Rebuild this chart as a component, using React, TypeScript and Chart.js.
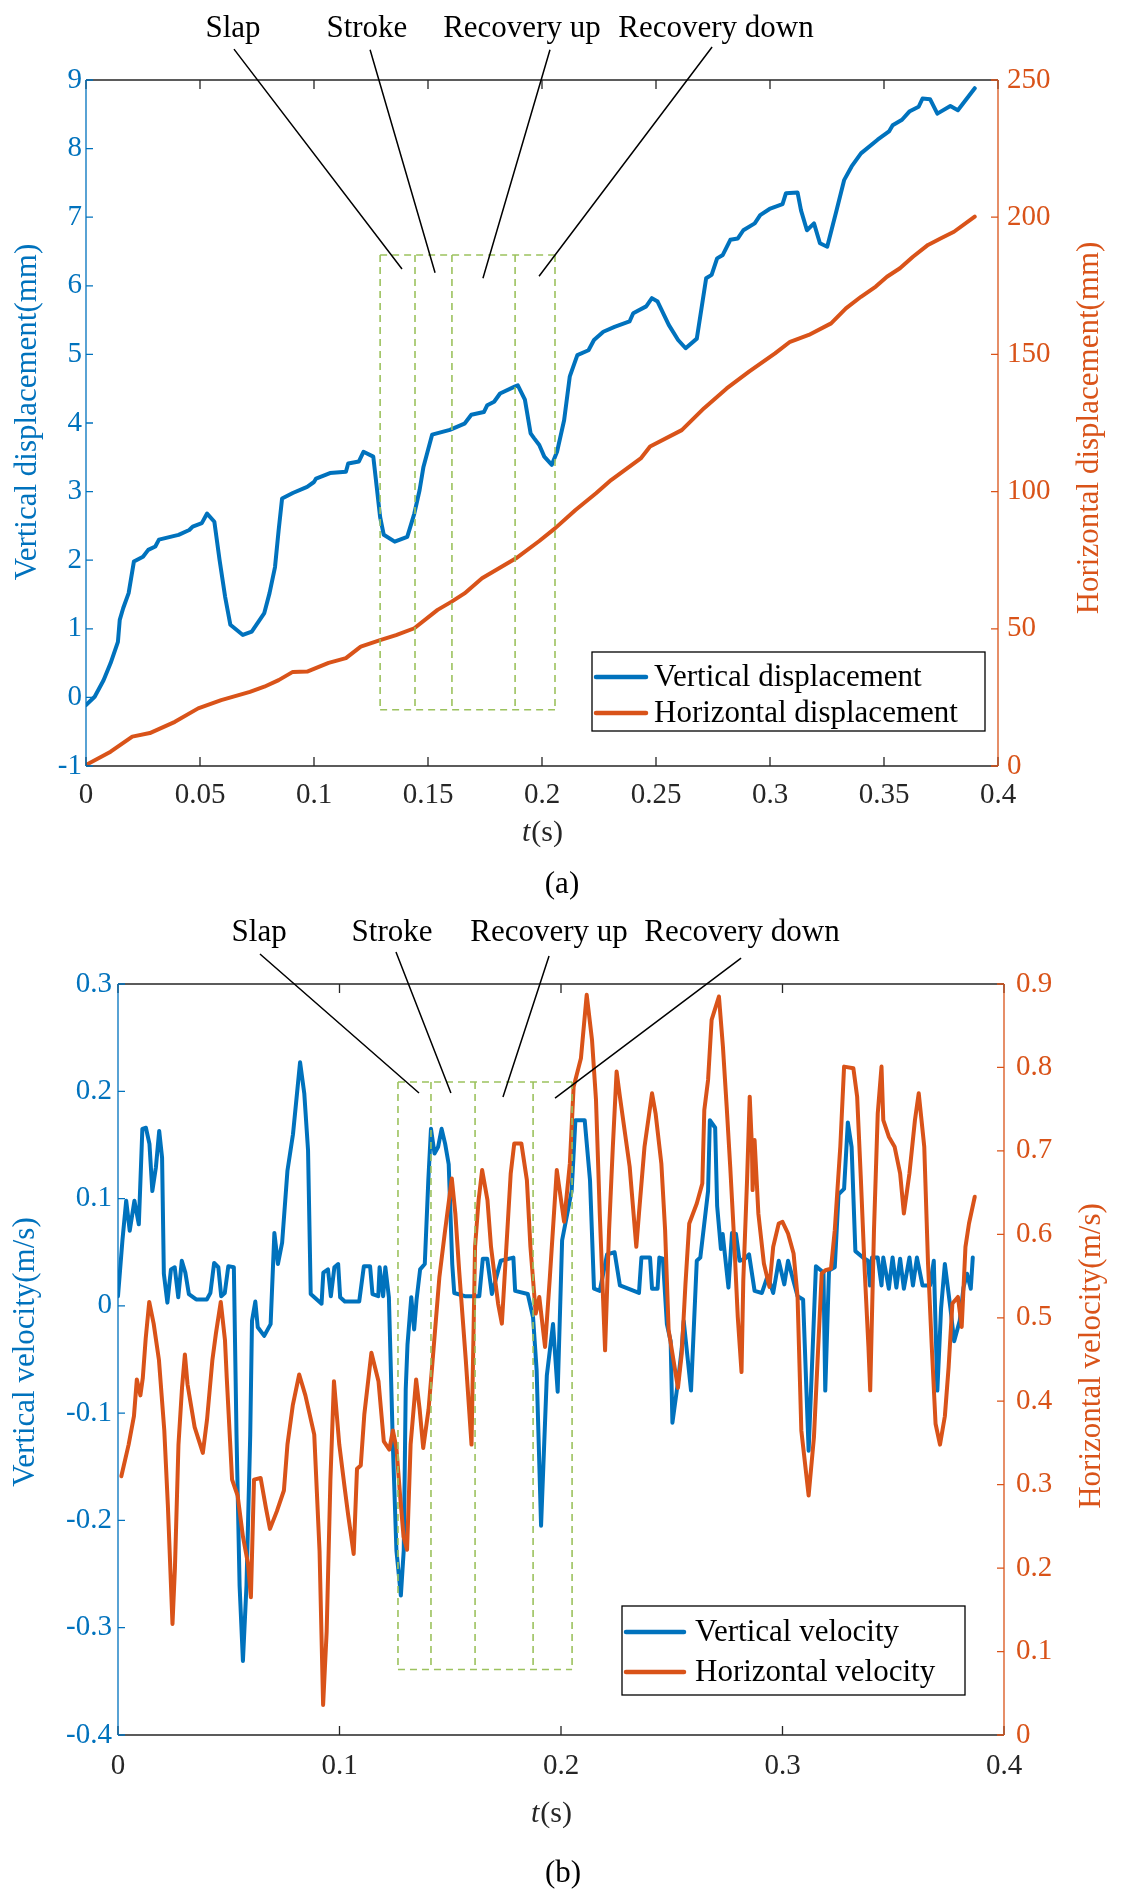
import React, { useEffect, useRef } from "react";
import { Chart, registerables } from "chart.js";
Chart.register(...registerables);

// ---------------- Panel (a): displacement ----------------
const vdTime = [0, .0038, .0077, .0108, .014, .0148, .0163, .0187, .021, .025, .0273, .0304, .032, .0406, .0453, .0468, .0508, .0531, .0563, .0586, .061, .0633, .0688, .0727, .0782, .0805, .0829, .0845, .086, .0907, .097, .1, .1009, .107, .114, .115, .1197, .1217, .126, .1275, .129, .1306, .1354, .1409, .144, .1463, .148, .1518, .1596, .166, .169, .1745, .176, .179, .1816, .188, .1894, .1925, .195, .1965, .1988, .201, .2043, .2066, .2097, .2122, .2155, .2204, .2228, .2269, .2318, .2384, .24, .2457, .2482, .2507, .2556, .2597, .263, .2679, .272, .2744, .2768, .2793, .2826, .2859, .2883, .2933, .2957, .2998, .3055, .307, .3121, .3136, .3162, .3193, .3219, .3251, .3292, .3325, .3358, .3399, .3472, .3522, .3538, .3579, .3611, .3652, .3669, .3702, .3734, .3791, .3824, .3898];
const vdValue = [-0.11, 0.01, 0.25, 0.5, 0.81, 1.13, 1.3, 1.52, 1.98, 2.05, 2.15, 2.2, 2.3, 2.37, 2.44, 2.49, 2.54, 2.68, 2.56, 2.0, 1.47, 1.06, 0.91, 0.96, 1.23, 1.52, 1.9, 2.44, 2.9, 2.98, 3.07, 3.14, 3.19, 3.27, 3.29, 3.41, 3.44, 3.58, 3.51, 3.07, 2.63, 2.37, 2.27, 2.34, 2.68, 3.02, 3.36, 3.83, 3.9, 3.99, 4.12, 4.16, 4.26, 4.31, 4.43, 4.53, 4.55, 4.34, 3.85, 3.78, 3.68, 3.51, 3.39, 3.58, 4.04, 4.68, 4.99, 5.06, 5.21, 5.33, 5.4, 5.48, 5.6, 5.7, 5.82, 5.77, 5.43, 5.21, 5.09, 5.23, 6.11, 6.16, 6.4, 6.45, 6.67, 6.69, 6.81, 6.91, 7.03, 7.12, 7.19, 7.35, 7.36, 7.1, 6.81, 6.91, 6.62, 6.57, 7.1, 7.54, 7.74, 7.93, 8.13, 8.25, 8.34, 8.42, 8.54, 8.61, 8.73, 8.72, 8.51, 8.62, 8.56, 8.88];
const hdTime = [0, .0108, .0203, .028, .039, .0492, .0593, .0719, .0782, .0845, .0907, .097, .1064, .114, .1205, .129, .136, .144, .1542, .1604, .166, .1737, .1886, .1988, .2057, .2147, .2237, .2303, .2433, .2474, .2613, .2711, .281, .2908, .3022, .3088, .317, .3268, .3333, .3399, .3464, .3513, .357, .3627, .3693, .375, .3807, .3898];
const hdValue = [0.4, 5.2, 10.7, 12, 16.1, 21, 24, 27, 28.9, 31.3, 34.3, 34.4, 37.6, 39.3, 43.5, 45.9, 47.7, 50.2, 56.9, 59.9, 62.9, 68.4, 75.7, 82, 86.6, 93.3, 99.4, 104.2, 112.1, 116.4, 122.4, 130.4, 137.6, 143.7, 150.4, 154.6, 157.1, 161.3, 166.8, 171, 174.7, 178.3, 181.4, 185.6, 189.9, 192.3, 194.7, 200.2];

const xTicksA = [0, 0.05, 0.1, 0.15, 0.2, 0.25, 0.3, 0.35, 0.4];
const xTickLabelsA = ["0", "0.05", "0.1", "0.15", "0.2", "0.25", "0.3", "0.35", "0.4"];
const yLeftTicksA = [-1, 0, 1, 2, 3, 4, 5, 6, 7, 8, 9];
const yLeftLabelsA = ["-1", "0", "1", "2", "3", "4", "5", "6", "7", "8", "9"];
const yRightTicksA = [0, 50, 100, 150, 200, 250];
const yRightLabelsA = ["0", "50", "100", "150", "200", "250"];

const phaseLabels = ["Slap", "Stroke", "Recovery up", "Recovery down"];
const annTextXA = [0.0645, 0.1232, 0.1912, 0.2763];
const annTextYA = 9.627;
const annFromXA = [0.0649, 0.1246, 0.2035, 0.2746];
const annFromYA = [9.45, 9.44, 9.44, 9.48];
const annToXA = [0.1386, 0.1531, 0.1741, 0.1987];
const annToYA = [6.245, 6.19, 6.11, 6.14];
const boxXA = [0.129, 0.1443, 0.1605, 0.1882, 0.2057];
const boxTopA = 6.45;
const boxBottomA = -0.18;

// ---------------- Panel (b): velocity ----------------
const vvTime = [0, .002, .0037, .0053, .0074, .0094, .011, .0126, .0142, .0155, .0171, .0186, .0199, .0207, .0223, .0239, .0256, .0272, .0288, .0304, .032, .0353, .0401, .0417, .0434, .0453, .0466, .0482, .0498, .0523, .0535, .0549, .0564, .058, .0597, .0605, .062, .0631, .066, .0689, .0706, .0722, .0741, .0765, .079, .0822, .0841, .0858, .087, .0919, .0927, .0948, .0961, .0977, .0994, .1003, .1024, .1089, .111, .1138, .1149, .1175, .1181, .1197, .1207, .1223, .1241, .1257, .1277, .129, .1299, .1307, .1324, .1337, .1348, .1364, .1385, .1401, .1413, .1429, .1445, .1461, .1477, .1493, .1509, .1518, .1566, .1631, .1647, .1667, .1688, .1728, .1785, .1793, .185, .1874, .189, .191, .1936, .1964, .1985, .2005, .2048, .2065, .2107, .2131, .2149, .2175, .2208, .2242, .2266, .2352, .2363, .2402, .2411, .2436, .2444, .246, .2478, .2495, .2503, .2528, .2545, .2554, .2587, .2613, .2629, .2664, .2672, .2696, .2705, .2722, .273, .2756, .2772, .279, .2806, .2831, .2849, .2874, .2907, .2933, .2958, .2983, .3008, .3025, .3068, .3093, .3118, .3151, .3185, .3193, .321, .3236, .3253, .3278, .3295, .3312, .3329, .3363, .3386, .3395, .3404, .343, .3447, .3455, .348, .3497, .3514, .3531, .3548, .3573, .3589, .3607, .3632, .3666, .3683, .3699, .3716, .3733, .3758, .3775, .38, .3817, .3833, .385, .3859];
const vvValue = [.009, .061, .098, .07, .098, .076, .165, .166, .151, .107, .129, .163, .138, .03, .003, .034, .036, .008, .042, .031, .011, .006, .006, .012, .04, .036, .009, .012, .037, .036, -.12, -.261, -.331, -.261, -.12, -.014, .004, -.02, -.028, -.017, .068, .039, .059, .126, .16, .227, .198, .145, .011, .002, .031, .034, .009, .036, .039, .008, .004, .004, .037, .037, .011, .009, .036, .009, .036, .008, -.13, -.228, -.27, -.228, -.078, -.036, .008, -.022, .006, .034, .039, .117, .165, .142, .148, .165, .151, .132, .039, .012, .009, .009, .044, .044, .011, .042, .045, .014, .011, -.011, -.06, -.205, -.065, -.017, -.08, .061, .107, .173, .173, .117, .016, .014, .048, .05, .019, .012, .045, .045, .016, .016, .045, .044, -.017, -.033, -.109, -.071, -.04, -.014, -.079, .042, .045, .107, .173, .166, .093, .053, .067, .017, .068, .067, .042, .044, .048, .014, .012, .028, .012, .042, .02, .042, .009, .006, -.135, .037, .031, -.079, .033, .036, .104, .109, .171, .148, .051, .045, .042, .019, .045, .045, .019, .045, .016, .045, .017, .044, .016, .045, .019, .045, .019, .019, .042, -.079, -.002, .039, -.002, -.033, -.014, .017, .03, .016, .045];
const hvTime = [.0015, .0048, .0072, .0085, .0101, .0112, .0125, .0141, .0161, .0185, .0209, .0225, .0246, .0257, .0273, .0289, .0302, .0314, .0346, .0383, .0402, .0426, .0442, .0464, .0483, .0491, .0515, .054, .0564, .0587, .06, .0614, .0644, .0668, .0686, .0717, .0749, .0765, .0789, .0818, .0846, .0886, .091, .0926, .0942, .0959, .0975, .0999, .1023, .1039, .1064, .1079, .1096, .1112, .1144, .1176, .12, .1225, .1241, .1257, .1273, .1289, .1305, .1321, .1346, .1362, .1378, .1402, .1418, .1451, .1475, .1507, .1523, .154, .157, .1596, .1612, .1628, .1644, .1668, .1684, .1716, .1733, .1749, .1773, .1789, .1821, .1846, .1862, .1886, .1902, .1928, .195, .1981, .1998, .2014, .204, .2057, .209, .2116, .214, .2158, .2175, .2199, .2217, .2234, .2251, .2266, .231, .234, .2352, .2377, .2411, .2427, .2453, .247, .2486, .2528, .2545, .2562, .2579, .2613, .2638, .2647, .2664, .268, .2713, .2731, .2748, .2764, .2781, .2798, .2815, .2823, .284, .2852, .2862, .2865, .2874, .2891, .2916, .2941, .2958, .2983, .3, .3025, .305, .3068, .3085, .3118, .3142, .3177, .3194, .3219, .3236, .3261, .3278, .332, .3337, .3354, .3371, .3388, .3396, .3413, .343, .3447, .3455, .348, .3506, .3531, .3548, .3573, .3598, .3615, .364, .3657, .3674, .3691, .3711, .3733, .375, .3767, .3792, .3809, .3826, .3842, .3868];
const hvValue = [.31, .348, .382, .426, .407, .428, .475, .519, .493, .449, .365, .276, .133, .2, .348, .416, .456, .42, .369, .338, .378, .449, .481, .519, .473, .428, .306, .287, .238, .205, .165, .306, .308, .272, .247, .268, .293, .348, .395, .432, .407, .36, .22, .036, .124, .306, .424, .348, .297, .264, .217, .319, .323, .384, .458, .424, .352, .342, .365, .344, .289, .238, .222, .348, .426, .39, .344, .39, .441, .549, .601, .667, .625, .557, .45, .348, .585, .641, .677, .641, .585, .517, .493, .565, .673, .709, .709, .665, .585, .505, .525, .465, .55, .677, .645, .615, .685, .777, .811, .887, .833, .761, .625, .461, .605, .705, .795, .765, .681, .585, .625, .705, .769, .745, .685, .605, .485, .416, .457, .541, .613, .637, .661, .749, .785, .857, .885, .825, .753, .681, .597, .501, .435, .545, .665, .765, .705, .653, .713, .625, .565, .537, .585, .613, .615, .601, .577, .525, .365, .287, .357, .553, .557, .559, .605, .705, .801, .799, .765, .665, .557, .465, .413, .605, .745, .801, .737, .717, .705, .673, .625, .673, .737, .769, .705, .565, .465, .373, .348, .382, .441, .517, .525, .489, .585, .613, .645];

const xTicksB = [0, 0.1, 0.2, 0.3, 0.4];
const xTickLabelsB = ["0", "0.1", "0.2", "0.3", "0.4"];
const yLeftTicksB = [-0.4, -0.3, -0.2, -0.1, 0, 0.1, 0.2, 0.3];
const yLeftLabelsB = ["-0.4", "-0.3", "-0.2", "-0.1", "0", "0.1", "0.2", "0.3"];
const yRightTicksB = [0, 0.1, 0.2, 0.3, 0.4, 0.5, 0.6, 0.7, 0.8, 0.9];
const yRightLabelsB = ["0", "0.1", "0.2", "0.3", "0.4", "0.5", "0.6", "0.7", "0.8", "0.9"];

const annTextXB = [0.0637, 0.1237, 0.1946, 0.2817];
const annTextYB = 0.340;
const annFromXB = [0.0641, 0.1255, 0.1946, 0.2813];
const annFromYB = [0.328, 0.3298, 0.326, 0.3242];
const annToXB = [0.1359, 0.1503, 0.1738, 0.1973];
const annToYB = [0.1984, 0.1984, 0.1947, 0.1937];
const boxXB = [0.1264, 0.1413, 0.1612, 0.1874, 0.205];
const boxTopB = 0.2087;
const boxBottomB = -0.339;

// ---------------- styling ----------------
const FONT = '"Liberation Serif", "Times New Roman", Times, serif';
const BLUE = "#0072BD";
const ORANGE = "#D95319";
const GREEN = "#9CC25E";
const AXIS = "#262626";

const toPts = (t: number[], v: number[]) => t.map((x, i) => ({ x, y: v[i] }));

interface PanelCfg {
  xTicks: number[];
  yLeftTicks: number[];
  yRightTicks: number[];
  leftTitle: string;
  rightTitle: string;
  leftTitleX: number;
  leftTitleY: number;
  rightTitleX: number;
  rightTitleY: number;
  xTitleX: number;
  xTitleY: number;
  panelLabel: string;
  panelLabelX: number;
  panelLabelY: number;
  legend: { x: number; y: number; w: number; h: number; l0: number; l1: number; tx: number; rows: number[] };
  annTextX: number[];
  annTextY: number;
  annFromX: number[];
  annFromY: number[];
  annToX: number[];
  annToY: number[];
  boxX: number[];
  boxTop: number;
  boxBottom: number;
}

function makeDecor(cfg: PanelCfg) {
  return {
    id: "decor",
    afterDatasetsDraw(chart: any) {
      const ctx: CanvasRenderingContext2D = chart.ctx;
      const xs = chart.scales.x;
      const yl = chart.scales.y;
      const yr = chart.scales.y1;
      const { left, right, top, bottom } = chart.chartArea;
      ctx.save();

      // dashed phase boxes
      ctx.strokeStyle = GREEN;
      ctx.lineWidth = 1.6;
      ctx.setLineDash([7, 5]);
      const bx = cfg.boxX.map((v) => xs.getPixelForValue(v));
      const byT = yl.getPixelForValue(cfg.boxTop);
      const byB = yl.getPixelForValue(cfg.boxBottom);
      ctx.beginPath();
      ctx.moveTo(bx[0], byT);
      ctx.lineTo(bx[bx.length - 1], byT);
      ctx.moveTo(bx[0], byB);
      ctx.lineTo(bx[bx.length - 1], byB);
      bx.forEach((x) => {
        ctx.moveTo(x, byT);
        ctx.lineTo(x, byB);
      });
      ctx.stroke();
      ctx.setLineDash([]);

      // axes frame
      ctx.lineWidth = 1.3;
      ctx.strokeStyle = AXIS;
      ctx.beginPath();
      ctx.moveTo(left, top);
      ctx.lineTo(right, top);
      ctx.moveTo(left, bottom);
      ctx.lineTo(right, bottom);
      cfg.xTicks.forEach((v) => {
        const px = xs.getPixelForValue(v);
        ctx.moveTo(px, bottom);
        ctx.lineTo(px, bottom - 9);
        ctx.moveTo(px, top);
        ctx.lineTo(px, top + 9);
      });
      ctx.stroke();
      ctx.strokeStyle = BLUE;
      ctx.beginPath();
      ctx.moveTo(left, top);
      ctx.lineTo(left, bottom);
      cfg.yLeftTicks.forEach((v) => {
        const py = yl.getPixelForValue(v);
        ctx.moveTo(left, py);
        ctx.lineTo(left + 7, py);
      });
      ctx.stroke();
      ctx.strokeStyle = ORANGE;
      ctx.beginPath();
      ctx.moveTo(right, top);
      ctx.lineTo(right, bottom);
      cfg.yRightTicks.forEach((v) => {
        const py = yr.getPixelForValue(v);
        ctx.moveTo(right, py);
        ctx.lineTo(right - 7, py);
      });
      ctx.stroke();

      // legend
      const lg = cfg.legend;
      ctx.fillStyle = "#ffffff";
      ctx.fillRect(lg.x, lg.y, lg.w, lg.h);
      ctx.strokeStyle = "#000";
      ctx.lineWidth = 1.3;
      ctx.strokeRect(lg.x, lg.y, lg.w, lg.h);
      ctx.font = `31px ${FONT}`;
      ctx.textBaseline = "middle";
      ctx.textAlign = "left";
      chart.data.datasets.forEach((ds: any, i: number) => {
        const ry = lg.rows[i];
        ctx.strokeStyle = ds.borderColor;
        ctx.lineWidth = 4.5;
        ctx.lineCap = "round";
        ctx.beginPath();
        ctx.moveTo(lg.l0, ry);
        ctx.lineTo(lg.l1, ry);
        ctx.stroke();
        ctx.fillStyle = "#000";
        ctx.fillText(ds.label, lg.tx, ry + 1);
      });
      ctx.lineCap = "butt";

      // phase annotations
      ctx.strokeStyle = "#000";
      ctx.lineWidth = 1.5;
      ctx.beginPath();
      cfg.annFromX.forEach((fx, i) => {
        ctx.moveTo(xs.getPixelForValue(fx), yl.getPixelForValue(cfg.annFromY[i]));
        ctx.lineTo(xs.getPixelForValue(cfg.annToX[i]), yl.getPixelForValue(cfg.annToY[i]));
      });
      ctx.stroke();
      ctx.fillStyle = "#000";
      ctx.textAlign = "center";
      ctx.textBaseline = "alphabetic";
      ctx.font = `31px ${FONT}`;
      const ty = yl.getPixelForValue(cfg.annTextY);
      phaseLabels.forEach((s, i) => {
        ctx.fillText(s, xs.getPixelForValue(cfg.annTextX[i]), ty);
      });

      // axis titles
      ctx.font = `31px ${FONT}`;
      ctx.textBaseline = "middle";
      ctx.fillStyle = BLUE;
      ctx.save();
      ctx.translate(cfg.leftTitleX, cfg.leftTitleY);
      ctx.rotate(-Math.PI / 2);
      ctx.fillText(cfg.leftTitle, 0, 0);
      ctx.restore();
      ctx.fillStyle = ORANGE;
      ctx.save();
      ctx.translate(cfg.rightTitleX, cfg.rightTitleY);
      ctx.rotate(-Math.PI / 2);
      ctx.fillText(cfg.rightTitle, 0, 0);
      ctx.restore();

      // x title with italic t
      ctx.fillStyle = AXIS;
      ctx.textAlign = "left";
      const fItalic = `italic 30px ${FONT}`;
      const fNormal = `30px ${FONT}`;
      ctx.font = fItalic;
      const wT = ctx.measureText("t").width;
      ctx.font = fNormal;
      const wS = ctx.measureText("(s)").width;
      const x0 = cfg.xTitleX - (wT + wS) / 2;
      ctx.font = fItalic;
      ctx.fillText("t", x0, cfg.xTitleY);
      ctx.font = fNormal;
      ctx.fillText("(s)", x0 + wT + 1, cfg.xTitleY);

      // panel label
      ctx.fillStyle = "#000";
      ctx.textAlign = "center";
      ctx.font = `31px ${FONT}`;
      ctx.fillText(cfg.panelLabel, cfg.panelLabelX, cfg.panelLabelY);

      ctx.restore();
    },
  };
}

function makeConfig(opts: {
  datasets: any[];
  xTicks: number[];
  xLabels: string[];
  yLTicks: number[];
  yLLabels: string[];
  yRTicks: number[];
  yRLabels: string[];
  padTop: number;
  leftW: number;
  rightW: number;
  xH: number;
  xPad: number;
  yLPad: number;
  yRPad: number;
  decor: PanelCfg;
}): any {
  const tickFont = { family: FONT, size: 29 };
  return {
    type: "line",
    data: { datasets: opts.datasets },
    options: {
      animation: false,
      responsive: false,
      devicePixelRatio: 1,
      events: [],
      layout: { padding: { top: opts.padTop, left: 0, right: 0, bottom: 0 } },
      plugins: { legend: { display: false }, tooltip: { enabled: false } },
      elements: { point: { radius: 0 } },
      scales: {
        x: {
          type: "linear",
          min: opts.xTicks[0],
          max: opts.xTicks[opts.xTicks.length - 1],
          grid: { display: false, drawTicks: false },
          border: { display: false },
          afterBuildTicks: (s: any) => {
            s.ticks = opts.xTicks.map((v) => ({ value: v }));
          },
          afterFit: (s: any) => {
            s.height = opts.xH;
          },
          ticks: {
            autoSkip: false,
            maxRotation: 0,
            padding: opts.xPad,
            color: AXIS,
            font: tickFont,
            callback: (_v: any, i: number) => opts.xLabels[i],
          },
        },
        y: {
          type: "linear",
          position: "left",
          min: opts.yLTicks[0],
          max: opts.yLTicks[opts.yLTicks.length - 1],
          grid: { display: false, drawTicks: false },
          border: { display: false },
          afterBuildTicks: (s: any) => {
            s.ticks = opts.yLTicks.map((v) => ({ value: v }));
          },
          afterFit: (s: any) => {
            s.width = opts.leftW;
          },
          ticks: {
            autoSkip: false,
            padding: opts.yLPad,
            color: BLUE,
            font: tickFont,
            callback: (_v: any, i: number) => opts.yLLabels[i],
          },
        },
        y1: {
          type: "linear",
          position: "right",
          min: opts.yRTicks[0],
          max: opts.yRTicks[opts.yRTicks.length - 1],
          grid: { display: false, drawTicks: false },
          border: { display: false },
          afterBuildTicks: (s: any) => {
            s.ticks = opts.yRTicks.map((v) => ({ value: v }));
          },
          afterFit: (s: any) => {
            s.width = opts.rightW;
          },
          ticks: {
            autoSkip: false,
            padding: opts.yRPad,
            color: ORANGE,
            font: tickFont,
            callback: (_v: any, i: number) => opts.yRLabels[i],
          },
        },
      },
    },
    plugins: [makeDecor(opts.decor)],
  };
}

const lineStyle = {
  borderWidth: 4,
  pointRadius: 0,
  tension: 0,
  borderJoinStyle: "round",
  borderCapStyle: "round",
  fill: false,
};

export default function App() {
  const refA = useRef<HTMLCanvasElement>(null);
  const refB = useRef<HTMLCanvasElement>(null);

  useEffect(() => {
    const cfgA = makeConfig({
      datasets: [
        { ...lineStyle, label: "Vertical displacement", data: toPts(vdTime, vdValue), yAxisID: "y", borderColor: BLUE, order: 1 },
        { ...lineStyle, label: "Horizontal displacement", data: toPts(hdTime, hdValue), yAxisID: "y1", borderColor: ORANGE, order: 0 },
      ],
      xTicks: xTicksA,
      xLabels: xTickLabelsA,
      yLTicks: yLeftTicksA,
      yLLabels: yLeftLabelsA,
      yRTicks: yRightTicksA,
      yRLabels: yRightLabelsA,
      padTop: 80,
      leftW: 86,
      rightW: 127,
      xH: 134,
      xPad: 12,
      yLPad: 4,
      yRPad: 9,
      decor: {
        xTicks: xTicksA,
        yLeftTicks: yLeftTicksA,
        yRightTicks: yRightTicksA,
        leftTitle: "Vertical displacement(mm)",
        rightTitle: "Horizontal displacement(mm)",
        leftTitleX: 28,
        leftTitleY: 412,
        rightTitleX: 1090,
        rightTitleY: 428,
        xTitleX: 542,
        xTitleY: 833,
        panelLabel: "(a)",
        panelLabelX: 562,
        panelLabelY: 885,
        legend: { x: 592, y: 652, w: 393, h: 79, l0: 596, l1: 646, tx: 654, rows: [677, 713] },
        annTextX: annTextXA,
        annTextY: annTextYA,
        annFromX: annFromXA,
        annFromY: annFromYA,
        annToX: annToXA,
        annToY: annToYA,
        boxX: boxXA,
        boxTop: boxTopA,
        boxBottom: boxBottomA,
      },
    });
    const cfgB = makeConfig({
      datasets: [
        { ...lineStyle, label: "Vertical velocity", data: toPts(vvTime, vvValue), yAxisID: "y", borderColor: BLUE, order: 1 },
        { ...lineStyle, label: "Horizontal velocity", data: toPts(hvTime, hvValue), yAxisID: "y1", borderColor: ORANGE, order: 0 },
      ],
      xTicks: xTicksB,
      xLabels: xTickLabelsB,
      yLTicks: yLeftTicksB,
      yLLabels: yLeftLabelsB,
      yRTicks: yRightTicksB,
      yRLabels: yRightLabelsB,
      padTop: 84,
      leftW: 118,
      rightW: 121,
      xH: 156,
      xPad: 14,
      yLPad: 6,
      yRPad: 12,
      decor: {
        xTicks: xTicksB,
        yLeftTicks: yLeftTicksB,
        yRightTicks: yRightTicksB,
        leftTitle: "Vertical velocity(m/s)",
        rightTitle: "Horizontal velocity(m/s)",
        leftTitleX: 26,
        leftTitleY: 452,
        rightTitleX: 1092,
        rightTitleY: 456,
        xTitleX: 551,
        xTitleY: 914,
        panelLabel: "(b)",
        panelLabelX: 563,
        panelLabelY: 974,
        legend: { x: 622, y: 706, w: 343, h: 89, l0: 626, l1: 684, tx: 695, rows: [732, 772] },
        annTextX: annTextXB,
        annTextY: annTextYB,
        annFromX: annFromXB,
        annFromY: annFromYB,
        annToX: annToXB,
        annToY: annToYB,
        boxX: boxXB,
        boxTop: boxTopB,
        boxBottom: boxBottomB,
      },
    });
    const chartA = new Chart(refA.current as HTMLCanvasElement, cfgA);
    const chartB = new Chart(refB.current as HTMLCanvasElement, cfgB);
    return () => {
      chartA.destroy();
      chartB.destroy();
    };
  }, []);

  return (
    <div style={{ position: "absolute", left: 0, top: 0, width: 1125, height: 1891, background: "#ffffff" }}>
      <canvas ref={refA} width={1125} height={900} style={{ position: "absolute", left: 0, top: 0, width: 1125, height: 900 }} />
      <canvas ref={refB} width={1125} height={991} style={{ position: "absolute", left: 0, top: 900, width: 1125, height: 991 }} />
    </div>
  );
}
